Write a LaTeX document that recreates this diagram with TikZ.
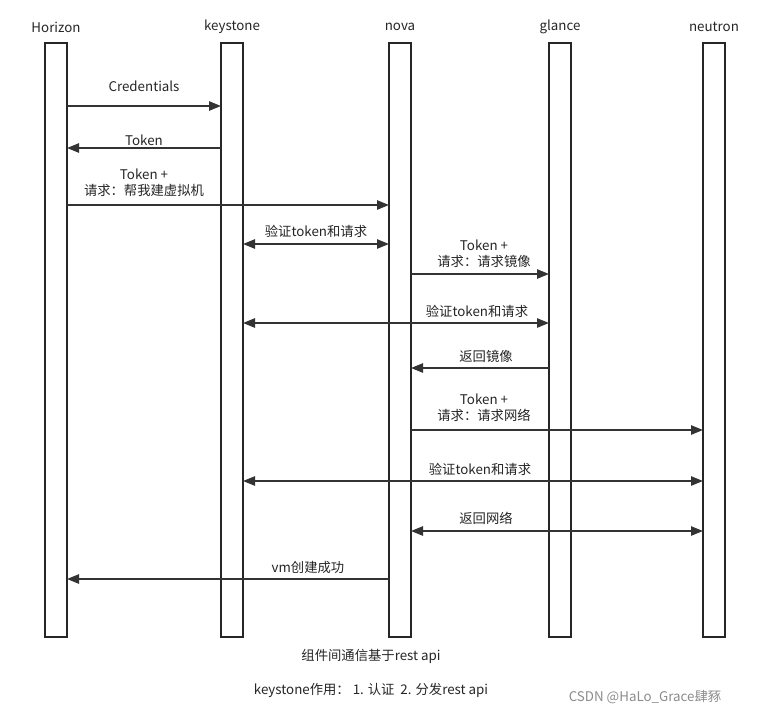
\documentclass[tikz,border=0pt]{standalone}
\usepackage{fontspec}
\setmainfont{Noto Sans CJK SC}
\usetikzlibrary{arrows.meta}
\begin{document}
\begin{tikzpicture}[x=0.75pt,y=-0.75pt,
  life/.style={draw=black!85,line width=1.3pt,minimum width=16.5pt,inner sep=0pt,anchor=north},
  msg/.style={draw=black!80,line width=1.1pt,-{Triangle[length=9pt,width=7pt]}},
  dmsg/.style={draw=black!80,line width=1.1pt,{Triangle[length=9pt,width=7pt]}-{Triangle[length=9pt,width=7pt]}},
  lbl/.style={font=\fontsize{10}{12}\selectfont,text=black!85,align=center,inner sep=0pt},
  head/.style={font=\fontsize{10}{12}\selectfont,text=black!85,inner sep=0pt}]
\useasboundingbox (0,0) rectangle (772,719);
\fill[white] (0,0) rectangle (772,719);
\foreach \n/\x/\t in {h/56/Horizon,k/232/keystone,n/400/nova,g/560/glance,u/714/neutron}{
  \node[life,minimum height=445.5pt] (\n) at (\x,42) {};
  \node[head] (\n t) at (\x,27) {\t};
}
\coordinate (h1) at (67,106); \coordinate (k1) at (221,106);
\draw[msg] (h1) -- (k1);
\node[lbl] (l1) at (144,86) {Credentials};
\coordinate (k2) at (221,148); \coordinate (h2) at (67,148);
\draw[msg] (k2) -- (h2);
\node[lbl] (l2) at (144,140) {Token};
\coordinate (h3) at (67,205); \coordinate (n3) at (389,205);
\draw[msg] (h3) -- (n3);
\node[lbl] (l3) at (144,183) {Token +\\请求：帮我建虚拟机};
\coordinate (k4) at (243,244); \coordinate (n4) at (389,244);
\draw[dmsg] (k4) -- (n4);
\node[lbl] (l4) at (316,231) {验证token和请求};
\coordinate (n5) at (411,274); \coordinate (g5) at (549,274);
\draw[msg] (n5) -- (g5);
\node[lbl] (l5) at (484,254) {Token +\\请求：请求镜像};
\coordinate (k6) at (243,323); \coordinate (g6) at (549,323);
\draw[dmsg] (k6) -- (g6);
\node[lbl] (l6) at (477,311) {验证token和请求};
\coordinate (g7) at (549,368); \coordinate (n7) at (411,368);
\draw[msg] (g7) -- (n7);
\node[lbl] (l7) at (486,356) {返回镜像};
\coordinate (n8) at (411,430); \coordinate (u8) at (703,430);
\draw[msg] (n8) -- (u8);
\node[lbl] (l8) at (484,408) {Token +\\请求：请求网络};
\coordinate (k9) at (243,481); \coordinate (u9) at (703,481);
\draw[dmsg] (k9) -- (u9);
\node[lbl] (l9) at (480,469) {验证token和请求};
\coordinate (n10) at (411,531); \coordinate (u10) at (703,531);
\draw[dmsg] (n10) -- (u10);
\node[lbl] (l10) at (486,518) {返回网络};
\coordinate (n11) at (389,579); \coordinate (h11) at (67,579);
\draw[msg] (n11) -- (h11);
\node[lbl] (l11) at (308,567) {vm创建成功};
\node[lbl] (f1) at (371,656) {组件间通信基于rest api};
\node[lbl] (f2) at (371,690) {keystone作用： 1. 认证 \ 2. 分发rest api};
\node[lbl,text=black!45] (wm) at (645,697) {CSDN @HaLo\_Grace肆豩};
\end{tikzpicture}
\end{document}
